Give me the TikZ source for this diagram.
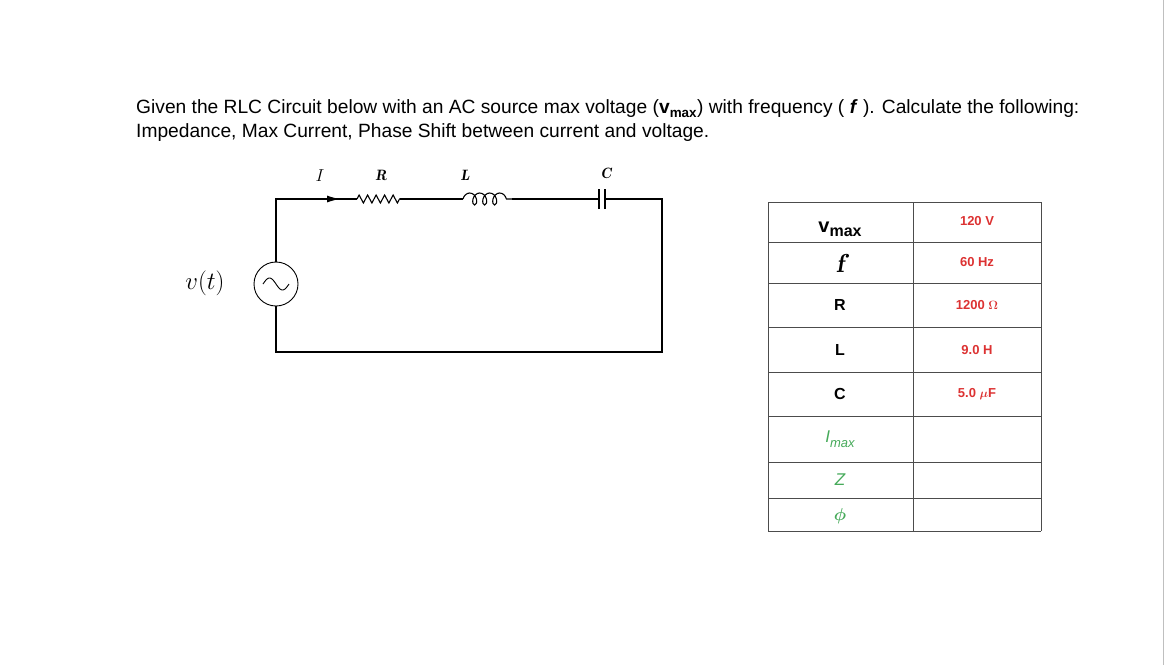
\documentclass[tikz,border=0pt]{standalone}
\usepackage{amsmath}
\usepackage{fontspec}
\setmainfont{Liberation Sans}
\usetikzlibrary{decorations.pathmorphing,arrows.meta}
\definecolor{vred}{RGB}{220,50,50}
\definecolor{vgreen}{RGB}{70,170,90}
\begin{document}
\begin{tikzpicture}[x=1pt,y=-1pt,
  wire/.style={line width=1.1pt},
  cell/.style={draw=black!70,line width=0.8pt},
  val/.style={font=\fontsize{13}{15}\selectfont\bfseries,text=vred},
  lab/.style={font=\fontsize{16}{18}\selectfont\bfseries},
  glab/.style={font=\fontsize{17}{19}\selectfont\itshape,text=vgreen},
  clab/.style={font=\fontsize{15}{17}\selectfont\fontfamily{lmr}\bfseries\itshape}]
\useasboundingbox (0,0) rectangle (1169,665);
\draw[black!25] (1163,0) -- (1163,665);
% title
\node[anchor=west,inner sep=0,font=\fontsize{19.2}{21}\selectfont] (t1) at (136,109) {Given the RLC Circuit below with an AC source max voltage (\textbf{v}$_{\textbf{max}}$) with frequency ( \textit{\textbf{f}} ). Calculate the following:};
\node[anchor=west,inner sep=0,font=\fontsize{19.2}{21}\selectfont] (t2) at (136,133) {Impedance, Max Current, Phase Shift between current and voltage.};
% circuit
\coordinate (tl) at (276,199);
\coordinate (tr) at (662,199);
\coordinate (bl) at (276,352);
\coordinate (br) at (662,352);
\node[draw,circle,minimum size=44,line width=0.9pt,inner sep=0] (src) at (276,284) {};
\draw[line width=0.9pt,domain=-13:13,samples=40,smooth] plot ({276+\x},{284+6*sin(\x*180/13)});
\node[font=\fontsize{38}{40}\selectfont] (vt) at (205,283) {$v(t)$};
\coordinate (r1) at (357,199); \coordinate (r2) at (400,199);
\coordinate (l1) at (463,199); \coordinate (l2) at (512,199);
\coordinate (c1) at (599,199); \coordinate (c2) at (605,199);
\draw[wire] (src.north) -- (tl) -- (r1);
\draw[wire,-{Latex[length=13pt,width=7pt]}] (tl) -- (340,199);
\draw[wire,decorate,decoration={zigzag,segment length=8.5pt,amplitude=4pt}] (r1) -- (r2);
\draw[wire] (r2) -- (l1);
\draw[wire,decorate,decoration={coil,segment length=10pt,amplitude=6pt,aspect=0.7}] (l1) -- (l2);
\draw[wire] (l2) -- (c1);
\draw[wire] ([yshift=-10]c1) -- ([yshift=10]c1);
\draw[wire] ([yshift=-10]c2) -- ([yshift=10]c2);
\draw[wire] (c2) -- (tr) -- (br) -- (bl) -- (src.south);
\node (iI) at (320,176) {\fontsize{17}{19}\selectfont$I$};
\node[clab] (iR) at (381,175) {R};
\node[clab] (iL) at (465,175) {L};
\node[clab] (iC) at (606,173) {C};
% table
\foreach \y in {202,242,283,327,372,416,462,498,531} \draw[cell] (768,\y) -- (1041,\y);
\foreach \x in {768,913,1041} \draw[cell] (\x,202) -- (\x,531);
\node[lab] (a1) at (840,229) {\fontsize{20}{22}\selectfont v\raisebox{-0.35ex}{\fontsize{16}{18}\selectfont max}};
\node[font=\fontsize{26}{28}\selectfont] (a2) at (840,263) {\fontfamily{lmr}\selectfont\bfseries\itshape f};
\node[lab] (a3) at (840,305) {R};
\node[lab] (a4) at (840,350) {L};
\node[lab] (a5) at (840,394) {C};
\node[glab] (a6) at (840,439) {I\raisebox{-0.5ex}{\fontsize{13}{15}\selectfont max}};
\node[glab] (a7) at (840,480) {Z};
\node[glab,font=\fontsize{17}{19}\selectfont] (a8) at (840,516) {$\boldsymbol{\phi}$};
\node[val] (b1) at (977,221) {120 V};
\node[val] (b2) at (977,262) {60 Hz};
\node[val] (b3) at (977,305) {1200 $\boldsymbol{\Omega}$};
\node[val] (b4) at (977,350) {9.0 H};
\node[val] (b5) at (977,394) {5.0 $\boldsymbol{\mu}$F};
\end{tikzpicture}
\end{document}
